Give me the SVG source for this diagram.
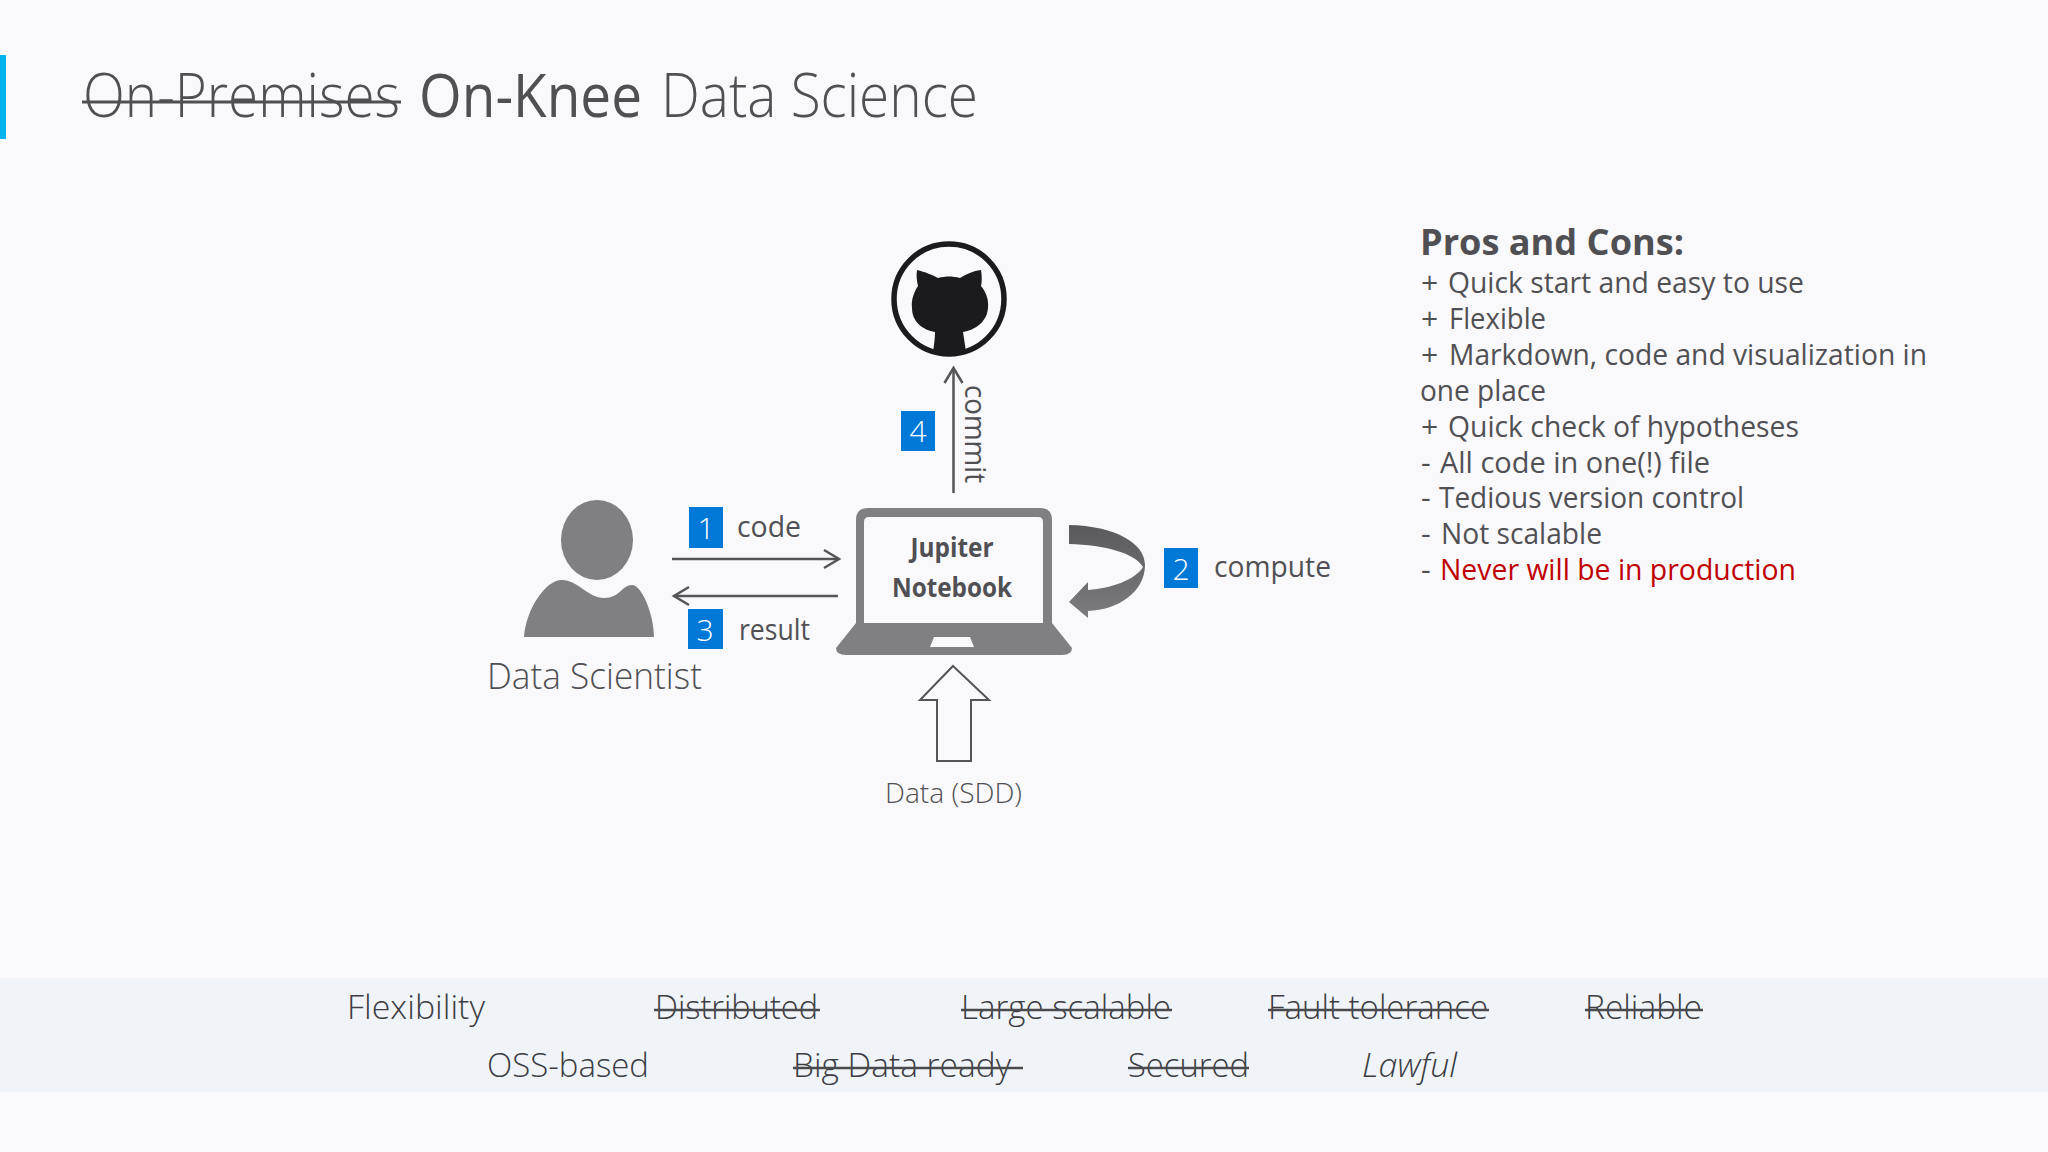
<svg xmlns="http://www.w3.org/2000/svg" width="2048" height="1152" viewBox="0 0 2048 1152">
<style>
text{font-family:"Open Sans","Noto Sans","Liberation Sans",sans-serif;fill:#505054}
.l{font-weight:300}
.t{font-size:60px}
.b{font-size:33px;font-weight:300;fill:#3c3c42}
.p{font-size:30px}
.n{font-size:30px;fill:#fff;text-anchor:middle;font-weight:300}
.lb{font-size:30px}
.j{font-size:26px;font-weight:700;text-anchor:middle}
.badge{fill:#0078d7}
.g{fill:#808083}
.c{fill:none;stroke:#555558;stroke-width:2.5}
.st{stroke:#4a4a4e;stroke-width:2.5}
.st2{stroke:#505054;stroke-width:3}
</style>
<defs>
<marker id="ah" markerUnits="userSpaceOnUse" markerWidth="20" markerHeight="24" refX="17" refY="12" orient="auto"><path d="M2 3L17 12L2 21" fill="none" stroke="#555558" stroke-width="2.5"/></marker>
<linearGradient id="cg" x1="0" y1="0" x2="0" y2="1"><stop offset="0" stop-color="#5a5a5c"/><stop offset="1" stop-color="#7c7c7e"/></linearGradient>
</defs>
<rect width="2048" height="1152" fill="#f9f9fb"/>
<rect x="0" y="978" width="2048" height="114" fill="#f0f4f9"/>
<rect id="accent" x="0" y="55" width="6" height="84" fill="#00b4f0"/>
<g id="title">
<text class="t l" x="83" y="117" textLength="317" lengthAdjust="spacingAndGlyphs">On-Premises</text>
<line class="st2" x1="82" y1="102" x2="401" y2="102"/>
<text class="t" x="419" y="117" textLength="223" lengthAdjust="spacingAndGlyphs">On-Knee</text>
<text class="t l" x="661" y="117" textLength="317" lengthAdjust="spacingAndGlyphs">Data Science</text>
</g>
<g id="connectors">
<line class="c" x1="672" y1="559" x2="839" y2="559" marker-end="url(#ah)"/>
<line class="c" x1="838" y1="596" x2="674" y2="596" marker-end="url(#ah)"/>
<line class="c" x1="953.5" y1="493" x2="953.5" y2="368" marker-end="url(#ah)"/>
<path id="loop" d="M1069 525C1115 526 1145 543 1145 565C1145 592 1118 610 1088 611V618L1069 602L1088 582V590C1112 588 1135 580 1143 567C1135 553 1105 545 1069 544Z" fill="url(#cg)"/>
<path id="data-arrow" d="M953 666L989 700H971V761H937V700H920Z" fill="none" stroke="#555558" stroke-width="2"/>
</g>
<g id="data-scientist">
<ellipse class="g" cx="597" cy="540" rx="36" ry="40"/>
<path class="g" d="M524 637C526 610 545 580 562 580C578 580 588 598 604 598C620 598 622 585 632 585C642 585 654 615 654 637Z"/>
<text class="l" style="font-size:37px" x="487" y="689" textLength="215" lengthAdjust="spacingAndGlyphs">Data Scientist</text>
</g>
<g id="laptop">
<path class="g" fill-rule="evenodd" d="M868 508H1040Q1052 508 1052 520V623L1072 648Q1072 655 1062 655H846Q836 655 836 648L856 623V520Q856 508 868 508ZM869 517Q864 517 864 522V623H1043V522Q1043 517 1038 517ZM934 637L930 647H974L970 637Z"/>
<text class="j" x="952" y="557" textLength="83" lengthAdjust="spacingAndGlyphs">Jupiter</text>
<text class="j" x="952" y="597" textLength="120" lengthAdjust="spacingAndGlyphs">Notebook</text>
</g>
<g id="github">
<circle cx="949" cy="299" r="55" fill="none" stroke="#1b1b1f" stroke-width="5.5"/>
<path fill="#1b1b1f" d="M917 270C925 272 933 275 938 278C946 276 952 276 960 278C966 274 973 271 981 270C982 276 982 282 981 286C986 292 989 300 988 308C987 322 975 330 963 332C964 338 965 345 966 352C958 357 940 357 933 352C934 345 935 338 935 332C923 330 912 322 912 308C911 300 914 292 918 286C917 282 916 276 917 270Z"/>
</g>
<g id="step-1"><rect class="badge" x="689" y="507" width="34" height="41"/><text class="n" x="706" y="539">1</text><text class="lb" x="737" y="537" textLength="64" lengthAdjust="spacingAndGlyphs">code</text></g>
<g id="step-2"><rect class="badge" x="1164" y="548" width="34" height="40"/><text class="n" x="1181" y="580">2</text><text class="lb" x="1214" y="577" textLength="117" lengthAdjust="spacingAndGlyphs">compute</text></g>
<g id="step-3"><rect class="badge" x="688" y="609" width="35" height="40"/><text class="n" x="705" y="641">3</text><text class="lb" x="739" y="640" textLength="71" lengthAdjust="spacingAndGlyphs">result</text></g>
<g id="step-4"><rect class="badge" x="901" y="411" width="34" height="40"/><text class="n" x="918" y="442">4</text><text class="lb" transform="translate(965 385) rotate(90)" textLength="98" lengthAdjust="spacingAndGlyphs">commit</text></g>
<text id="data-label" class="l" style="font-size:28px" x="885" y="803" textLength="137" lengthAdjust="spacingAndGlyphs">Data (SDD)</text>
<g id="pros-cons">
<text x="1420" y="255" style="font-size:36px;font-weight:700" textLength="264" lengthAdjust="spacingAndGlyphs">Pros and Cons:</text>
<text class="p"><tspan x="1421" y="293">+</tspan><tspan x="1448" y="293" textLength="356" lengthAdjust="spacingAndGlyphs">Quick start and easy to use</tspan><tspan x="1421" y="329">+</tspan><tspan x="1449" y="329" textLength="97" lengthAdjust="spacingAndGlyphs">Flexible</tspan><tspan x="1421" y="365">+</tspan><tspan x="1449" y="365" textLength="478" lengthAdjust="spacingAndGlyphs">Markdown, code and visualization in</tspan><tspan x="1420" y="401" textLength="126" lengthAdjust="spacingAndGlyphs">one place</tspan><tspan x="1421" y="437">+</tspan><tspan x="1448" y="437" textLength="351" lengthAdjust="spacingAndGlyphs">Quick check of hypotheses</tspan><tspan x="1421" y="473">-</tspan><tspan x="1440" y="473" textLength="270" lengthAdjust="spacingAndGlyphs">All code in one(!) file</tspan><tspan x="1421" y="508">-</tspan><tspan x="1439" y="508" textLength="305" lengthAdjust="spacingAndGlyphs">Tedious version control</tspan><tspan x="1421" y="544">-</tspan><tspan x="1441" y="544" textLength="161" lengthAdjust="spacingAndGlyphs">Not scalable</tspan><tspan x="1421" y="580">-</tspan><tspan x="1440" y="580" textLength="356" lengthAdjust="spacingAndGlyphs" style="fill:#c00000">Never will be in production</tspan></text>
</g>
<g id="footer">
<text class="b" x="347" y="1019" textLength="138" lengthAdjust="spacingAndGlyphs">Flexibility</text>
<text class="b" x="655" y="1019" textLength="163" lengthAdjust="spacingAndGlyphs">Distributed</text>
<line class="st" x1="654" y1="1010" x2="820" y2="1010"/>
<text class="b" x="961" y="1019" textLength="210" lengthAdjust="spacingAndGlyphs">Large scalable</text>
<line class="st" x1="961" y1="1010" x2="1172" y2="1010"/>
<text class="b" x="1268" y="1019" textLength="220" lengthAdjust="spacingAndGlyphs">Fault tolerance</text>
<line class="st" x1="1268" y1="1010" x2="1489" y2="1010"/>
<text class="b" x="1585" y="1019" textLength="117" lengthAdjust="spacingAndGlyphs">Reliable</text>
<line class="st" x1="1585" y1="1010" x2="1703" y2="1010"/>
<text class="b" x="487" y="1077" textLength="162" lengthAdjust="spacingAndGlyphs">OSS-based</text>
<text class="b" x="793" y="1077" textLength="218" lengthAdjust="spacingAndGlyphs">Big Data ready</text>
<line class="st" x1="793" y1="1068" x2="1023" y2="1068"/>
<text class="b" x="1128" y="1077" textLength="121" lengthAdjust="spacingAndGlyphs">Secured</text>
<line class="st" x1="1128" y1="1068" x2="1249" y2="1068"/>
<text class="b" style="font-style:italic" x="1362" y="1077" textLength="95" lengthAdjust="spacingAndGlyphs">Lawful</text>
</g>
</svg>
